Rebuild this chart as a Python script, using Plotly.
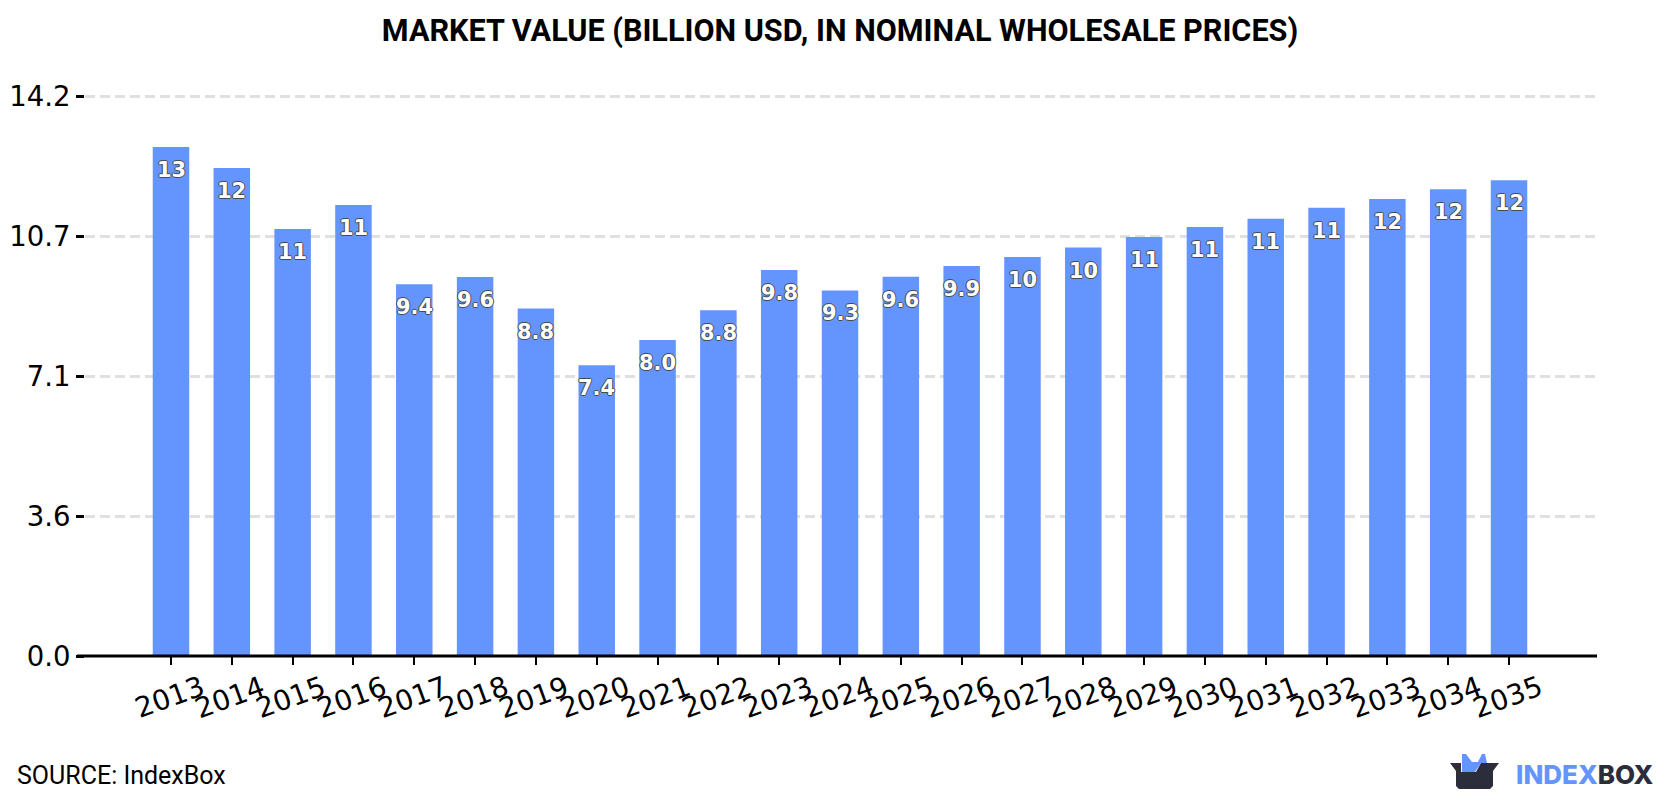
import plotly.graph_objects as go

TITLE = "MARKET VALUE (BILLION USD, IN NOMINAL WHOLESALE PRICES)"
SOURCE = "SOURCE: IndexBox"

years = list(range(2013, 2036))
market_value = [12.92, 12.39, 10.84, 11.45, 9.44, 9.62, 8.82, 7.38, 8.02, 8.78, 9.80, 9.28,
                9.63, 9.90, 10.13, 10.37, 10.64, 10.89, 11.10, 11.38, 11.60, 11.85, 12.08]
y_ticks = [0, 3.55, 7.1, 10.65, 14.2]
y_tick_labels = ["0.0", "3.6", "7.1", "10.7", "14.2"]

BAR_BLUE = "#6495ff"
DARK = "#2b2d3a"
W, H = 1680, 800
L, R, T, B = 85, 1596, 90, 656
PX_PER_UNIT = 39.39


def px_x(x):
    return (x - L) / (R - L)


def px_y(y):
    return (B - y) / (B - T)


def path(points):
    return "M " + " L ".join(f"{px_x(x):.5f},{px_y(y):.5f}" for x, y in points) + " Z"


def value_label(v):
    return f"{v:.1f}" if v < 10 else f"{v:.0f}"


outline = ("-1px 0 #4a4a4a, 1px 0 #4a4a4a, 0 -1px #4a4a4a, 0 1px #4a4a4a")

fig = go.Figure(
    go.Bar(x=years, y=market_value, width=0.6, marker=dict(color=BAR_BLUE, line_width=0),
           hoverinfo="x+y")
)

annotations = []
# Value labels sit a fixed distance below each bar top
for yr, v in zip(years, market_value):
    annotations.append(dict(x=yr, y=v, xref="x", yref="y", text=value_label(v), showarrow=False,
                            yanchor="middle", yshift=-23,
                            font=dict(family="DejaVu Sans", size=21, color="white", weight="bold",
                                      shadow=outline)))
# Slanted year labels centred under their ticks
for yr in years:
    annotations.append(dict(x=yr, y=0, xref="x", yref="paper", text=str(yr),
                            showarrow=False, yanchor="middle", yshift=-41, textangle=-20, xshift=-2,
                            font=dict(family="DejaVu Sans", size=28, color="black")))
annotations.append(dict(x=px_x(15), y=px_y(775), xref="paper", yref="paper", text=SOURCE,
                        showarrow=False, xanchor="left", yanchor="middle",
                        font=dict(family="Roboto", size=25, color="black")))
annotations.append(dict(x=px_x(1514), y=px_y(774), xref="paper", yref="paper",
                        text=f'<span style="color:{BAR_BLUE}">INDEX</span>'
                             f'<span style="color:{DARK}">BOX</span>',
                        showarrow=False, xanchor="left", yanchor="middle",
                        font=dict(family="Inter", size=26, weight=800)))

# Logo: an open box with a blue crown rising out of it
crown = [(1462, 772), (1462, 754), (1466, 754), (1472, 762), (1478, 762), (1482, 754), (1485, 754),
         (1487, 763), (1481, 763), (1475, 772)]
box = [(1450, 763), (1461, 763), (1461, 772), (1476, 772), (1481, 763), (1499, 763), (1493, 771),
       (1493, 786), (1490, 789), (1459, 789), (1456, 786), (1456, 771)]
shapes = [
    dict(type="path", xref="paper", yref="paper", path=path(crown), fillcolor=BAR_BLUE, line_width=0),
    dict(type="path", xref="paper", yref="paper", path=path(box), fillcolor=DARK, line_width=0),
    # Baseline runs left over the zero tick as one unbroken rule
    dict(type="line", xref="paper", yref="paper", x0=px_x(77), x1=px_x(1597), y0=0, y1=0,
         line=dict(color="black", width=3)),
]

fig.update_layout(
    width=W, height=H,
    margin=dict(l=L, r=W - R, t=T, b=H - B, pad=0),
    paper_bgcolor="white", plot_bgcolor="white",
    showlegend=False, bargap=0.4,
    title=dict(text=f"<b>{TITLE}</b>", x=0.5, xanchor="center", y=1 - 30 / H, yanchor="middle",
               font=dict(family="Roboto", size=30.6, color="black")),
    xaxis=dict(range=[2013 - 1.414, 2035 + 1.43], tickmode="array", tickvals=years, automargin=False,
               showticklabels=False, ticks="outside", ticklen=8, tickwidth=2, tickcolor="black",
               showgrid=False, zeroline=False, showline=False),
    # The range runs a little past the top tick so its gridline stays drawn
    yaxis=dict(range=[0, (B - T) / PX_PER_UNIT], tickmode="array", tickvals=y_ticks, automargin=False,
               ticktext=y_tick_labels, ticks="outside", ticklen=8, tickwidth=3, tickcolor="black",
               tickfont=dict(family="DejaVu Sans", size=27.5, color="black"),
               showgrid=True, gridcolor="#e0e0e0", gridwidth=3, griddash="10px,5px",
               zeroline=False, showline=False),
    annotations=annotations, shapes=shapes,
)

fig.write_html("out.html")
